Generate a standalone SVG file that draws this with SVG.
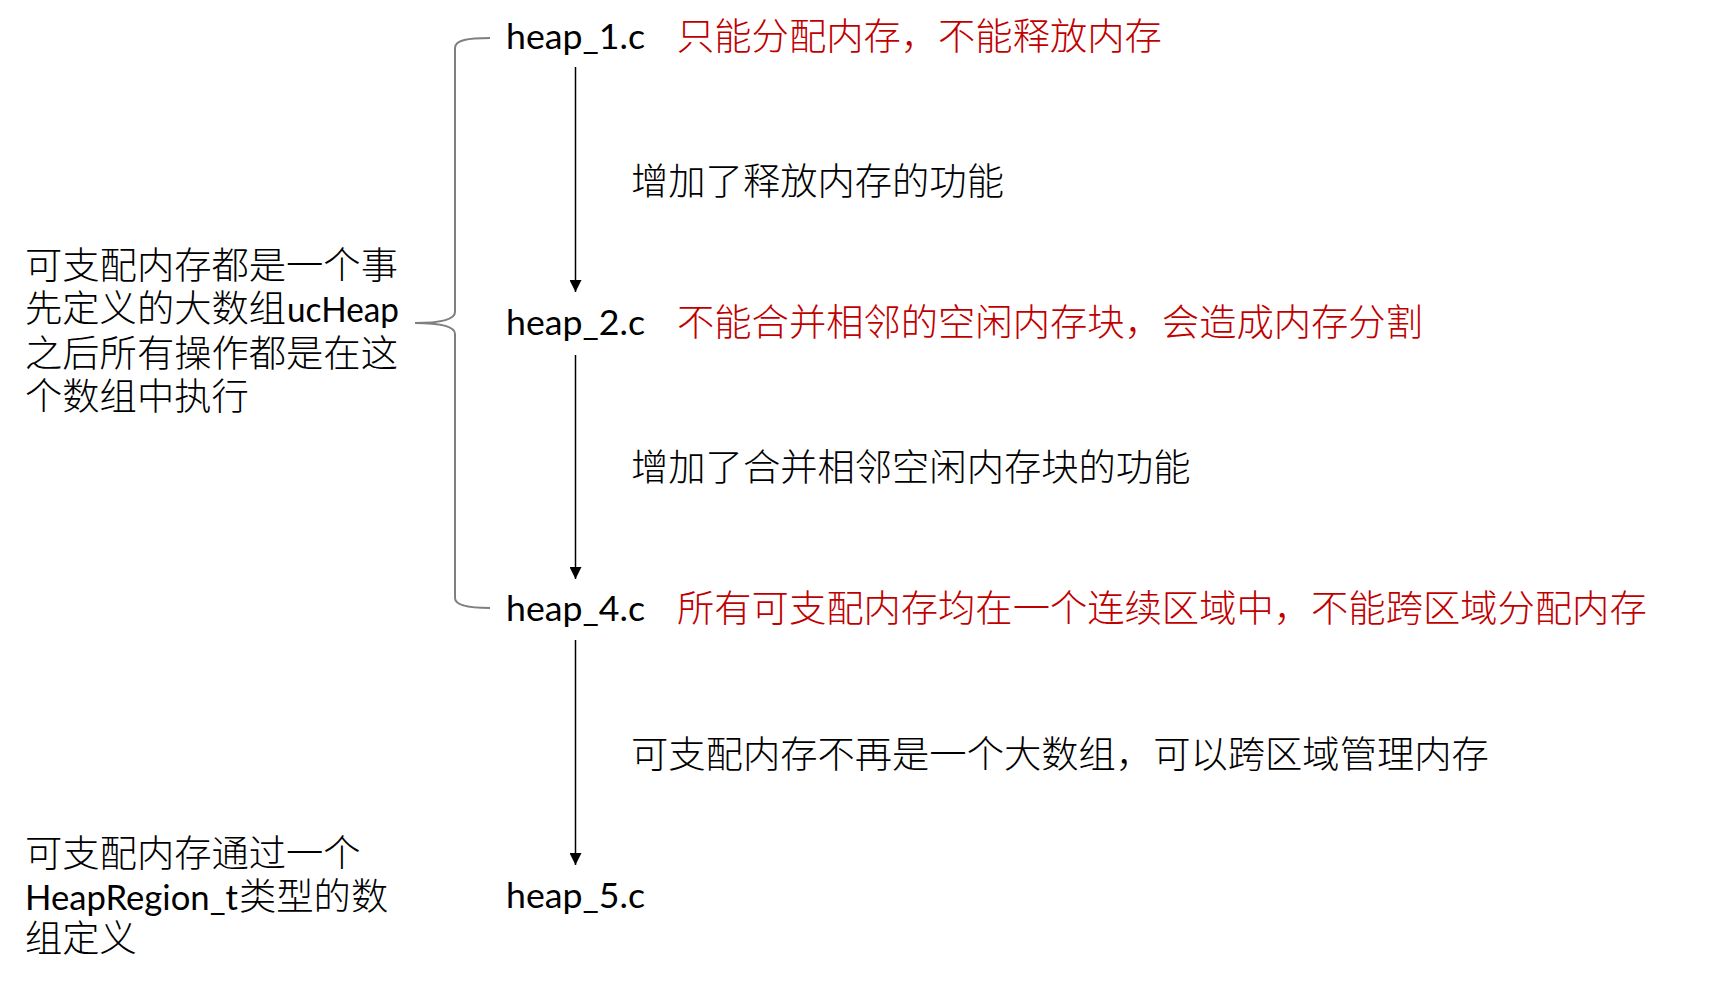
<svg xmlns="http://www.w3.org/2000/svg" width="1717" height="982" viewBox="0 0 1717 982">
<defs>
<style>
.lat{font-family:Lato,"Open Sans","Noto Sans CJK SC",sans-serif;font-size:35px;font-weight:400;fill:#000}
.cjk{font-family:"Noto Sans CJK SC","Noto Sans CJK JP",sans-serif;font-size:37.3px;font-weight:300;fill:#000}
.red{fill:#C00000}
.conn{stroke:#000;stroke-width:1.5;fill:none}
.brace{stroke:#7F7F7F;stroke-width:2;fill:none}
</style>
<marker id="arr" viewBox="0 0 12 12" refX="12" refY="6" markerWidth="12" markerHeight="12" markerUnits="userSpaceOnUse" orient="auto">
<path d="M0,0 L12,6 L0,12 Z" fill="#000"/>
</marker>
</defs>
<rect width="1717" height="982" fill="#fff"/>

<g id="heap1">
<text class="lat" x="506" y="49" textLength="139" lengthAdjust="spacingAndGlyphs">heap_1.c</text>
<text class="cjk red" x="677" y="50">只能分配内存，不能释放内存</text>
</g>
<g id="heap2">
<text class="lat" x="506" y="335" textLength="139" lengthAdjust="spacingAndGlyphs">heap_2.c</text>
<text class="cjk red" x="677" y="336">不能合并相邻的空闲内存块，会造成内存分割</text>
</g>
<g id="heap4">
<text class="lat" x="506" y="621" textLength="139" lengthAdjust="spacingAndGlyphs">heap_4.c</text>
<text class="cjk red" x="677" y="622">所有可支配内存均在一个连续区域中，不能跨区域分配内存</text>
</g>
<g id="heap5">
<text class="lat" x="506" y="908" textLength="139" lengthAdjust="spacingAndGlyphs">heap_5.c</text>
</g>

<g id="connectors">
<line class="conn" x1="575.5" y1="67" x2="575.5" y2="292" marker-end="url(#arr)"/>
<line class="conn" x1="575.5" y1="355" x2="575.5" y2="579" marker-end="url(#arr)"/>
<line class="conn" x1="575.5" y1="640" x2="575.5" y2="865" marker-end="url(#arr)"/>
</g>

<g id="edge-labels">
<text class="cjk" x="631" y="195">增加了释放内存的功能</text>
<text class="cjk" x="631" y="481">增加了合并相邻空闲内存块的功能</text>
<text class="cjk" x="631" y="768">可支配内存不再是一个大数组，可以跨区域管理内存</text>
</g>

<g id="brace">
<path class="brace" d="M490,38 C468,38 455,40 455,48 L455,312 C455,320 440,323 415,323 C440,323 455,326 455,334 L455,598 C455,605 468,608 490,608"/>
</g>

<g id="note-array">
<text class="cjk"><tspan x="25" y="279">可支配内存都是一个事</tspan><tspan x="25" y="322">先定义的大数组</tspan><tspan class="lat" x="287" y="322" textLength="112" lengthAdjust="spacingAndGlyphs">ucHeap</tspan><tspan x="25" y="367">之后所有操作都是在这</tspan><tspan x="25" y="410">个数组中执行</tspan></text>
</g>

<g id="note-region">
<text class="cjk"><tspan x="25" y="867">可支配内存通过一个</tspan><tspan class="lat" x="25" y="910" textLength="213" lengthAdjust="spacingAndGlyphs">HeapRegion_t</tspan><tspan x="239" y="910">类型的数</tspan><tspan x="25" y="952">组定义</tspan></text>
</g>
</svg>
